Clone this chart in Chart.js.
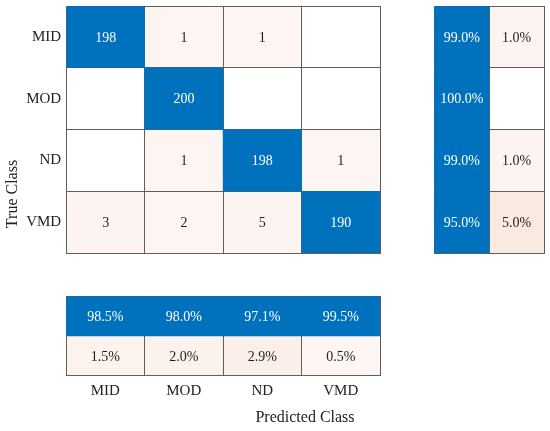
<!DOCTYPE html>
<html>
<head>
<meta charset="utf-8">
<script src="https://cdn.jsdelivr.net/npm/chart.js@4.4.1/dist/chart.umd.min.js"></script>
<style>
body { margin: 0; background: #fff; width: 550px; height: 431px; overflow: hidden; position: relative; }
canvas { position: absolute; }
</style>
</head>
<body>
<canvas id="main-chart" width="390" height="388" style="left:0px;top:0px"></canvas>
<canvas id="row-chart" width="120" height="260" style="left:430px;top:0px"></canvas>
<canvas id="col-chart" width="490" height="141" style="left:60px;top:290px"></canvas>
<script>
const classes = ['MID', 'MOD', 'ND', 'VMD'];

// rows = true class, columns = predicted class
const countsMID = [198, 1, 1, 0];
const countsMOD = [0, 200, 0, 0];
const countsND = [0, 1, 198, 1];
const countsVMD = [3, 2, 5, 190];
const counts = [countsMID, countsMOD, countsND, countsVMD];

const rowCorrect = [99.0, 100.0, 99.0, 95.0];
const rowWrong = [1.0, 0.0, 1.0, 5.0];
const colCorrect = [98.5, 98.0, 97.1, 99.5];
const colWrong = [1.5, 2.0, 2.9, 0.5];

const blue = '#0072BD';
const serif = "'Liberation Serif', 'Times New Roman', serif";
const gridColor = '#5e5e5e';

// off-diagonal shading: counts barely change, percentages a bit more
const countTint = function (v) {
    if (!v) return 'rgba(255,255,255,0)';
    return 'rgba(217,83,25,' + (0.055 + 0.002 * v).toFixed(3) + ')';
};
const pctTint = function (v) {
    if (!v) return 'rgba(255,255,255,0)';
    return 'rgba(217,83,25,' + (0.045 + 0.017 * v).toFixed(3) + ')';
};

// writes each dataset's texts on top of its cells
const cellText = {
    id: 'cellText',
    afterDraw(chart) {
        const ctx = chart.ctx;
        ctx.save();
        ctx.font = '14px ' + serif;
        ctx.textAlign = 'center';
        ctx.textBaseline = 'middle';
        chart.data.datasets.forEach((ds, i) => {
            chart.getDatasetMeta(i).data.forEach((bar, j) => {
                const t = ds.texts[j];
                if (t === '') return;
                const p = bar.getCenterPoint();
                ctx.fillStyle = ds.backgroundColor[j] === blue ? '#ffffff' : '#1e1e1e';
                ctx.fillText(t, p.x, p.y + 1);
            });
        });
        ctx.restore();
    }
};

const noEdgePadding = (scale) => { scale.paddingTop = 0; scale.paddingBottom = 0; scale.paddingLeft = 0; scale.paddingRight = 0; };

const hiddenAxis = function (extra) {
    return Object.assign({
        z: 1,
        grid: { color: gridColor, drawTicks: false },
        border: { color: gridColor },
        ticks: { display: false },
        afterFit: noEdgePadding
    }, extra);
};

// empty axis that only reserves room, so full-size titles center on the whole figure
const spacer = function (position, size) {
    const horizontal = position === 'top' || position === 'bottom';
    return {
        type: 'linear',
        position: position,
        weight: 5,
        grid: { display: false },
        border: { display: false },
        ticks: { display: false },
        afterFit: (scale) => {
            noEdgePadding(scale);
            if (horizontal) { scale.height = size; } else { scale.width = size; }
        }
    };
};

const baseOptions = {
    responsive: false,
    animation: false,
    events: []
};

// main confusion matrix
const mainDatasets = classes.map((cls, c) => ({
    data: classes.map(() => 1),
    backgroundColor: classes.map((r, ri) => ri === c ? blue : countTint(counts[ri][c])),
    texts: classes.map((r, ri) => counts[ri][c] ? String(counts[ri][c]) : ''),
    borderWidth: 0,
    barPercentage: 1,
    categoryPercentage: 1
}));

new Chart(document.getElementById('main-chart'), {
    type: 'bar',
    data: { labels: classes, datasets: mainDatasets },
    options: Object.assign({}, baseOptions, {
        indexAxis: 'y',
        layout: { padding: { top: 0, bottom: 0, right: 10 } },
        plugins: {
            legend: { display: false },
            tooltip: { enabled: false },
            title: {
                display: true,
                position: 'left',
                text: 'True Class',
                color: '#222',
                font: { family: serif, size: 16, weight: 'normal' },
                padding: { top: 3, bottom: 4 }
            }
        },
        scales: {
            x: hiddenAxis({ stacked: true, min: 0, max: 4, ticks: { display: false, stepSize: 1 } }),
            y: {
                stacked: true,
                z: 1,
                grid: { color: gridColor, drawTicks: false },
                border: { color: gridColor },
                ticks: { color: '#222', padding: 5, font: { family: serif, size: 15 } },
                afterFit: (scale) => { noEdgePadding(scale); scale.width = 40; }
            },
            topGap: spacer('top', 6),
            bottomGap: spacer('bottom', 135)
        }
    }),
    plugins: [cellText]
});

// row summary (per true class)
const rowPct = [rowCorrect, rowWrong];
const rowDatasets = rowPct.map((vals, k) => ({
    data: classes.map(() => 1),
    backgroundColor: vals.map(v => k === 0 ? blue : pctTint(v)),
    texts: vals.map(v => v ? v.toFixed(1) + '%' : ''),
    borderWidth: 0,
    barPercentage: 1,
    categoryPercentage: 1
}));

new Chart(document.getElementById('row-chart'), {
    type: 'bar',
    data: { labels: classes, datasets: rowDatasets },
    options: Object.assign({}, baseOptions, {
        indexAxis: 'y',
        layout: { padding: { top: 6, bottom: 7, left: 4, right: 6 } },
        plugins: { legend: { display: false }, tooltip: { enabled: false } },
        scales: {
            x: hiddenAxis({ stacked: true, min: 0, max: 2, ticks: { display: false, stepSize: 1 } }),
            y: hiddenAxis({ stacked: true })
        }
    }),
    plugins: [cellText]
});

// column summary (per predicted class)
const colPct = [colCorrect, colWrong];
const colDatasets = colPct.map((vals, k) => ({
    data: classes.map(() => 1),
    backgroundColor: vals.map(v => k === 0 ? blue : pctTint(v)),
    texts: vals.map(v => v ? v.toFixed(1) + '%' : ''),
    borderWidth: 0,
    barPercentage: 1,
    categoryPercentage: 1
}));

new Chart(document.getElementById('col-chart'), {
    type: 'bar',
    data: { labels: classes, datasets: colDatasets },
    options: Object.assign({}, baseOptions, {
        layout: { padding: { top: 6, bottom: 2, left: 0, right: 0 } },
        plugins: {
            legend: { display: false },
            tooltip: { enabled: false },
            title: {
                display: true,
                position: 'bottom',
                text: 'Predicted Class',
                color: '#222',
                font: { family: serif, size: 16, weight: 'normal' },
                padding: { top: 2, bottom: 2 }
            }
        },
        scales: {
            x: {
                stacked: true,
                z: 1,
                grid: { color: gridColor, drawTicks: false },
                border: { color: gridColor },
                ticks: { color: '#222', padding: 6, maxRotation: 0, font: { family: serif, size: 15 } },
                afterFit: noEdgePadding
            },
            y: hiddenAxis({ stacked: true, reverse: true, min: 0, max: 2, ticks: { display: false, stepSize: 1 } }),
            leftGap: spacer('left', 6),
            rightGap: spacer('right', 170)
        }
    }),
    plugins: [cellText]
});
</script>
</body>
</html>
